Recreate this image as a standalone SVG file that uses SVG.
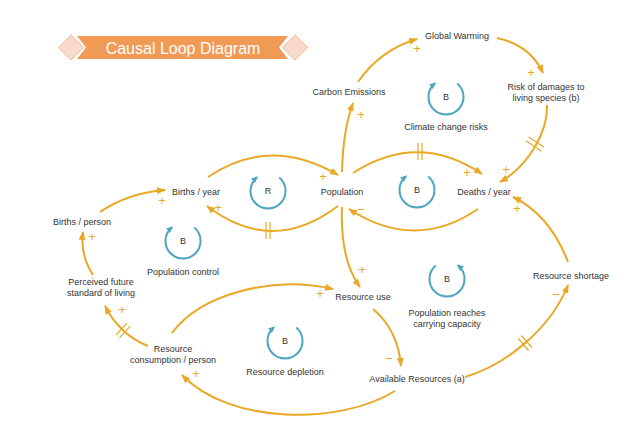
<svg xmlns="http://www.w3.org/2000/svg" width="638" height="442" viewBox="0 0 638 442">
<style>
.t{font-family:"Liberation Sans",Arial,sans-serif;font-size:9px;fill:#333;text-anchor:middle}
.s{font-family:"Liberation Sans",Arial,sans-serif;font-size:13px;fill:#e9a825;text-anchor:middle}
.c{fill:none;stroke:#e9a825;stroke-width:2;marker-end:url(#ah)}
.d{stroke:#e9a825;stroke-width:1.2}
.l{fill:none;stroke:#4ca6c1;stroke-width:2;marker-end:url(#bh)}
</style>
<defs>
<marker id="ah" markerUnits="userSpaceOnUse" markerWidth="9" markerHeight="7" refX="8" refY="3.5" orient="auto">
<path d="M0,0 L9,3.5 L0,7 z" fill="#e9a825"/>
</marker>
<marker id="bh" markerUnits="userSpaceOnUse" markerWidth="7" markerHeight="6" refX="5" refY="3" orient="auto">
<path d="M0,0 L7,3 L0,6 z" fill="#4ca6c1"/>
</marker>
</defs>
<rect width="638" height="442" fill="#fff"/>
<g id="title">
<polygon points="77,36 288,36 279,47.5 288,59 77,59 86,47.5" fill="#f19a56"/>
<polygon points="71,35 83.5,47.5 71,60 58.5,47.5" fill="#fadbc9" stroke="#f2b896" stroke-width="1"/>
<polygon points="295,35 307.5,47.5 295,60 282.5,47.5" fill="#fadbc9" stroke="#f2b896" stroke-width="1"/>
<text x="183" y="53.5" style="font-family:'Liberation Sans',Arial,sans-serif;font-size:16px;fill:#fff;text-anchor:middle">Causal Loop Diagram</text>
</g>
<g id="connectors">
<path class="c" d="M208,177 Q270,135 338,175"/>
<path class="c" d="M338,206 Q272,256 207,206"/>
<path class="c" d="M100,212 Q128,193 165,190"/>
<path class="c" d="M93,275 Q80,255 83,232"/>
<path class="c" d="M148,346 Q120,335 105,306"/>
<path class="c" d="M172,333 C200,295 270,275 333,289"/>
<path class="c" d="M395,391 C340,425 230,425 182,375"/>
<path class="c" d="M342,207 Q340,260 360,287"/>
<path class="c" d="M373,309 Q398,330 401,366"/>
<path class="c" d="M465,377 C505,365 550,330 568,285"/>
<path class="c" d="M568,262 Q550,215 513,197"/>
<path class="c" d="M478,209 Q415,252 349,209"/>
<path class="c" d="M353,173 Q418,131 482,174"/>
<path class="c" d="M342,172 Q343,130 353,103"/>
<path class="c" d="M358,82 Q380,50 417,39"/>
<path class="c" d="M497,38 Q530,45 543,73"/>
<path class="c" d="M547,105 C548,130 530,165 500,182"/>
<g id="delays">
<line class="d" x1="266" y1="222" x2="266" y2="239"/>
<line class="d" x1="270" y1="222" x2="270" y2="239"/>
<line class="d" x1="418" y1="143" x2="418" y2="160"/>
<line class="d" x1="422" y1="143" x2="422" y2="160"/>
<line class="d" x1="528.8" y1="137.1" x2="543.8" y2="147.1"/>
<line class="d" x1="526.2" y1="140.9" x2="541.2" y2="150.9"/>
<line class="d" x1="521.5" y1="335.5" x2="531.9" y2="347.7"/>
<line class="d" x1="518.1" y1="338.3" x2="528.5" y2="350.5"/>
<line class="d" x1="116.2" y1="334.9" x2="127" y2="323.1"/>
<line class="d" x1="119.4" y1="337.9" x2="130.2" y2="326.1"/>
</g>
<g id="polarities">
<text class="s" x="323" y="180.5">+</text>
<text class="s" x="218" y="211.5">+</text>
<text class="s" x="162" y="204.5">+</text>
<text class="s" x="92" y="240.5">+</text>
<text class="s" x="122" y="313.5">+</text>
<text class="s" x="320" y="297.5">+</text>
<text class="s" x="196" y="377.5">+</text>
<text class="s" x="362" y="273.5">+</text>
<text class="s" x="389" y="362.5">−</text>
<text class="s" x="556" y="298.5">−</text>
<text class="s" x="517" y="212.5">+</text>
<text class="s" x="361" y="213.5">−</text>
<text class="s" x="467" y="176.5">+</text>
<text class="s" x="361" y="118.5">+</text>
<text class="s" x="417" y="52.5">+</text>
<text class="s" x="531" y="76.5">+</text>
<text class="s" x="506" y="173.5">+</text>
</g>
</g>
<g id="global-warming"><text class="t" x="457" y="39">Global Warming</text></g>
<g id="carbon-emissions"><text class="t" x="349" y="95">Carbon Emissions</text></g>
<g id="risk-damages"><text class="t" x="546" y="90">Risk of damages to</text><text class="t" x="546" y="101">living species (b)</text></g>
<g id="births-year"><text class="t" x="196" y="195">Births / year</text></g>
<g id="births-person"><text class="t" x="82" y="225">Births / person</text></g>
<g id="perceived-future"><text class="t" x="101" y="285">Perceived future</text><text class="t" x="101" y="296">standard of living</text></g>
<g id="population"><text class="t" x="342" y="195">Population</text></g>
<g id="deaths-year"><text class="t" x="484" y="195">Deaths / year</text></g>
<g id="resource-use"><text class="t" x="363" y="300">Resource use</text></g>
<g id="resource-shortage"><text class="t" x="571" y="279">Resource shortage</text></g>
<g id="available-resources"><text class="t" x="417" y="382">Available Resources (a)</text></g>
<g id="resource-consumption"><text class="t" x="173" y="352">Resource</text><text class="t" x="173" y="363">consumption / person</text></g>
<g id="loop-climate">
<path class="l" d="M457.25,83.6 A17.5,17.5 0 1 1 434.75,83.6"/>
<text class="t" x="446" y="100">B</text>
<text class="t" x="446" y="130">Climate change risks</text>
</g>
<g id="loop-r">
<path class="l" d="M279.25,177.6 A17.5,17.5 0 1 1 256.75,177.6"/>
<text class="t" x="268" y="194">R</text>
</g>
<g id="loop-population-control">
<path class="l" d="M194.25,227.6 A17.5,17.5 0 1 1 171.75,227.6"/>
<text class="t" x="183" y="244">B</text>
<text class="t" x="183" y="275">Population control</text>
</g>
<g id="loop-population-deaths">
<path class="l" d="M428.25,176.6 A17.5,17.5 0 1 1 405.75,176.6"/>
<text class="t" x="417" y="193">B</text>
</g>
<g id="loop-carrying-capacity">
<path class="l" d="M435.75,265.6 A17.5,17.5 0 1 0 458.25,265.6"/>
<text class="t" x="447" y="282">B</text>
<text class="t" x="447" y="316">Population reaches</text>
<text class="t" x="447" y="327">carrying capacity</text>
</g>
<g id="loop-resource-depletion">
<path class="l" d="M296.25,327.6 A17.5,17.5 0 1 1 273.75,327.6"/>
<text class="t" x="285" y="344">B</text>
<text class="t" x="285" y="375">Resource depletion</text>
</g>
</svg>
